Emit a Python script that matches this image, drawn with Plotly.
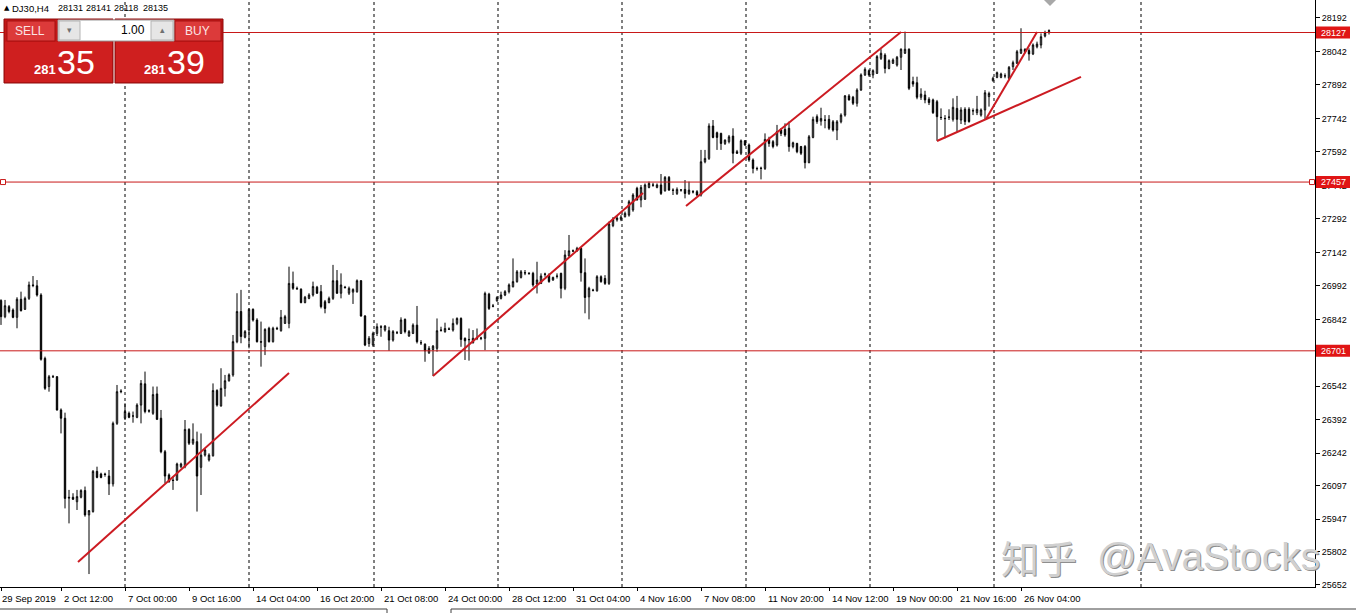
import plotly.graph_objects as go

# ---------------- data (DJ30, H4) ----------------
open_prices = [
    26926, 26854, 26899, 26884, 26851, 26932, 26887, 26936, 26996, 26992,
    26951, 26667, 26541, 26585, 26585, 26436, 26399, 26045, 26045, 26025,
    26045, 26075, 25966, 25981, 26161, 26149, 26149, 26140, 26105, 26376,
    26518, 26399, 26421, 26409, 26403, 26458, 26553, 26433, 26421, 26508,
    26399, 26249, 26145, 26122, 26122, 26182, 26182, 26349, 26287, 26294,
    26179, 26234, 26212, 26231, 26523, 26454, 26533, 26567, 26593, 26742,
    26877, 26762, 26794, 26887, 26839, 26742, 26720, 26802, 26742, 26802,
    26791, 26824, 26824, 27003, 26981, 26977, 26917, 26936, 26951, 26986,
    26966, 26921, 26917, 26936, 27015, 26959, 26986, 26959, 26964, 26966,
    27015, 26857, 26734, 26727, 26779, 26809, 26794, 26791, 26749, 26782,
    26779, 26842, 26767, 26779, 26816, 26737, 26731, 26692, 26707, 26712,
    26794, 26787, 26799, 26794, 26824, 26846, 26757, 26752, 26737, 26757,
    26757, 26757, 26955, 26902, 26925, 26936, 26951, 26966, 26988, 27011,
    27030, 27051, 27048, 27048, 27000, 27003, 27045, 27040, 27018, 27036,
    27048, 26981, 27126, 27149, 27149, 27160, 27051, 26943, 26973, 26970,
    27033, 27025, 27003, 27262, 27288, 27290, 27302, 27309, 27332, 27429,
    27377, 27380, 27433, 27444, 27433, 27444, 27418, 27478, 27421, 27406,
    27421, 27424, 27406, 27414, 27414, 27399, 27548, 27563, 27708, 27678,
    27675, 27630, 27638, 27663, 27593, 27586, 27642, 27623, 27556, 27518,
    27518, 27518, 27648, 27638, 27623, 27690, 27693, 27698, 27616, 27630,
    27616, 27616, 27544, 27657, 27750, 27730, 27735, 27738, 27727, 27690,
    27727, 27757, 27843, 27837, 27810, 27869, 27937, 27956, 27937, 27944,
    28011, 28026, 27966, 27989, 27981, 28016, 28034, 28052, 27907, 27902,
    27837, 27847, 27828, 27825, 27817, 27747, 27742, 27747, 27738, 27787,
    27735, 27783, 27783, 27777, 27768, 27757, 27780, 27840, 27911, 27926,
    27926, 27932, 27922, 27974, 27989, 28034, 28052, 28046, 28031, 28063,
    28071, 28111, 28131,
]
high_prices = [
    26932, 26929, 26906, 26891, 26941, 26966, 26944, 27011, 27036, 27018,
    26959, 26675, 26593, 26593, 26588, 26443, 26424, 26078, 26063, 26078,
    26081, 26093, 25988, 26167, 26182, 26155, 26155, 26167, 26384, 26548,
    26529, 26466, 26429, 26429, 26466, 26570, 26608, 26439, 26541, 26541,
    26436, 26257, 26152, 26137, 26200, 26200, 26391, 26354, 26376, 26339,
    26331, 26264, 26242, 26555, 26529, 26623, 26593, 26600, 26772, 26959,
    26974, 26794, 26891, 26891, 26847, 26832, 26802, 26809, 26809, 26809,
    26884, 26862, 27078, 27056, 26989, 26981, 26947, 26959, 27011, 26992,
    26996, 26929, 26944, 27086, 27063, 27048, 26992, 26989, 26981, 27021,
    27018, 26861, 26767, 26787, 26824, 26816, 26816, 26809, 26794, 26790,
    26851, 26846, 26794, 26824, 26902, 26749, 26734, 26722, 26727, 26846,
    26809, 26827, 26806, 26846, 26851, 26851, 26761, 26801, 26794, 26801,
    26764, 26966, 26961, 26911, 26946, 26966, 26973, 27003, 27115, 27063,
    27063, 27063, 27054, 27055, 27100, 27048, 27051, 27048, 27033, 27048,
    27051, 27152, 27220, 27155, 27167, 27164, 27115, 26988, 26979, 27040,
    27039, 27040, 27280, 27300, 27305, 27309, 27325, 27377, 27407, 27436,
    27444, 27451, 27459, 27454, 27451, 27493, 27484, 27484, 27429, 27433,
    27424, 27466, 27459, 27421, 27421, 27601, 27601, 27720, 27735, 27683,
    27678, 27648, 27668, 27698, 27601, 27648, 27645, 27630, 27563, 27526,
    27526, 27675, 27660, 27645, 27713, 27698, 27720, 27728, 27638, 27633,
    27619, 27623, 27668, 27750, 27760, 27790, 27757, 27757, 27735, 27735,
    27765, 27847, 27851, 27843, 27877, 27944, 27971, 27962, 27962, 28026,
    28052, 28034, 28007, 28011, 28022, 28056, 28131, 28056, 27929, 27929,
    27877, 27866, 27837, 27831, 27825, 27787, 27757, 27783, 27832, 27843,
    27792, 27792, 27792, 27787, 27843, 27787, 27869, 27862, 27929, 27952,
    27947, 27944, 27977, 28001, 28049, 28146, 28056, 28056, 28078, 28086,
    28123, 28135, 28141,
]
low_prices = [
    26817, 26847, 26869, 26847, 26802, 26877, 26884, 26929, 26986, 26944,
    26657, 26526, 26518, 26582, 26433, 26331, 25995, 25928, 26033, 25988,
    26040, 25958, 25701, 25976, 26130, 26130, 26137, 26055, 26093, 26369,
    26511, 26391, 26399, 26379, 26399, 26376, 26421, 26424, 26414, 26391,
    26242, 26108, 26110, 26078, 26119, 26175, 26175, 26279, 26279, 25981,
    26055, 26227, 26205, 26227, 26451, 26451, 26496, 26563, 26585, 26735,
    26735, 26757, 26712, 26832, 26738, 26630, 26682, 26738, 26738, 26794,
    26787, 26821, 26802, 26974, 26974, 26914, 26914, 26932, 26944, 26956,
    26891, 26869, 26914, 26929, 26956, 26936, 26981, 26951, 26911, 26961,
    26854, 26722, 26719, 26719, 26767, 26764, 26787, 26701, 26742, 26776,
    26776, 26779, 26764, 26776, 26734, 26727, 26652, 26687, 26589, 26697,
    26787, 26782, 26794, 26787, 26816, 26719, 26660, 26657, 26734, 26749,
    26749, 26704, 26884, 26896, 26921, 26931, 26946, 26958, 26985, 27006,
    27025, 27040, 27042, 26988, 26958, 27000, 27033, 27006, 27015, 27025,
    26936, 26973, 27123, 27143, 27145, 27011, 26869, 26842, 26967, 26966,
    27006, 26996, 26996, 27255, 27280, 27282, 27298, 27302, 27324, 27374,
    27344, 27377, 27429, 27436, 27429, 27399, 27414, 27418, 27399, 27399,
    27414, 27384, 27399, 27406, 27395, 27392, 27541, 27556, 27653, 27601,
    27601, 27623, 27630, 27541, 27583, 27578, 27619, 27548, 27496, 27508,
    27469, 27511, 27615, 27608, 27616, 27663, 27660, 27593, 27608, 27586,
    27578, 27518, 27541, 27653, 27718, 27710, 27698, 27690, 27683, 27645,
    27720, 27750, 27822, 27802, 27795, 27866, 27932, 27929, 27922, 27941,
    28004, 27944, 27962, 27986, 27974, 27959, 28031, 27869, 27884, 27828,
    27825, 27810, 27802, 27762, 27642, 27735, 27653, 27735, 27728, 27683,
    27717, 27713, 27723, 27757, 27757, 27750, 27735, 27795, 27907, 27922,
    27922, 27922, 27917, 27959, 27986, 28031, 28034, 28001, 28026, 28056,
    28056, 28105, 28118,
]
close_prices = [
    26854, 26903, 26877, 26851, 26932, 26881, 26936, 26996, 26994, 26951,
    26663, 26533, 26585, 26584, 26436, 26399, 26040, 26042, 26036, 26048,
    26075, 25966, 25985, 26161, 26134, 26134, 26147, 26105, 26376, 26518,
    26520, 26429, 26403, 26409, 26458, 26555, 26429, 26431, 26505, 26394,
    26249, 26140, 26115, 26120, 26194, 26194, 26349, 26287, 26305, 26140,
    26234, 26257, 26234, 26523, 26458, 26533, 26567, 26593, 26742, 26877,
    26765, 26787, 26887, 26839, 26742, 26740, 26797, 26742, 26802, 26800,
    26851, 26854, 27003, 26981, 26979, 26917, 26941, 26951, 26989, 26959,
    26899, 26891, 26936, 27015, 26959, 26996, 26984, 26981, 26976, 27015,
    26857, 26727, 26757, 26779, 26809, 26807, 26812, 26749, 26787, 26782,
    26839, 26787, 26787, 26816, 26742, 26737, 26701, 26712, 26722, 26791,
    26793, 26801, 26798, 26824, 26846, 26752, 26746, 26751, 26757, 26756,
    26758, 26958, 26891, 26901, 26940, 26951, 26966, 26996, 27011, 27055,
    27055, 27050, 27047, 26996, 27018, 27036, 27044, 27011, 27030, 27035,
    26981, 27130, 27149, 27148, 27160, 27051, 26940, 26981, 26972, 27033,
    27011, 27003, 27269, 27290, 27296, 27300, 27317, 27369, 27399, 27377,
    27433, 27444, 27451, 27443, 27444, 27406, 27478, 27421, 27420, 27424,
    27422, 27406, 27421, 27413, 27399, 27548, 27563, 27708, 27657, 27657,
    27630, 27645, 27660, 27586, 27586, 27642, 27623, 27556, 27518, 27517,
    27519, 27648, 27630, 27616, 27683, 27675, 27668, 27616, 27633, 27593,
    27586, 27544, 27660, 27738, 27728, 27742, 27734, 27698, 27690, 27727,
    27757, 27843, 27825, 27810, 27869, 27937, 27962, 27937, 27956, 28019,
    28034, 27966, 28001, 28004, 28016, 28052, 28052, 27877, 27896, 27837,
    27851, 27825, 27813, 27768, 27750, 27746, 27741, 27748, 27792, 27738,
    27780, 27728, 27728, 27776, 27783, 27780, 27857, 27854, 27922, 27947,
    27941, 27933, 27971, 27992, 28041, 28052, 28041, 28031, 28071, 28075,
    28108, 28126, 28135,
]
bar_index = list(range(len(open_prices)))

# time-axis labels (bar index -> label)
time_tick_pos = [0, 15, 31, 47, 63, 79, 95, 111, 127, 143, 159, 175, 191, 207, 223, 239, 255]
time_tick_text = ["29 Sep 2019", "2 Oct 12:00", "7 Oct 00:00", "9 Oct 16:00", "14 Oct 04:00",
                  "16 Oct 20:00", "21 Oct 08:00", "24 Oct 00:00", "28 Oct 12:00", "31 Oct 04:00",
                  "4 Nov 16:00", "7 Nov 08:00", "11 Nov 20:00", "14 Nov 12:00", "19 Nov 00:00",
                  "21 Nov 16:00", "26 Nov 04:00"]
# vertical (period) grid lines, in bar units
grid_pos = [31, 62, 93.25, 124.25, 155.25, 186.25, 217.25, 248.25, 285]

# price axis
price_ticks = [28192, 28042, 27892, 27742, 27592, 27442, 27292, 27142, 26992, 26842,
               26692, 26542, 26392, 26242, 26097, 25947, 25802, 25652]

# horizontal level lines
levels = [28127, 27457, 26701]
# trend lines: (bar0, price0, bar1, price1)
trend_lines = [
    (19.25, 25755, 72.0, 26602),
    (108.0, 26588, 160.5, 27408),
    (171.25, 27350, 225.0, 28129),
    (234.0, 27641, 270.0, 27928),
    (246.25, 27739, 259.0, 28129),
]

# header / trade panel texts
symbol_text = "DJ30,H4"
ohlc_header = ["28131", "28141", "28118", "28135"]
lot_text = "1.00"
sell_big, sell_small = "35", "281"
buy_big, buy_small = "39", "281"
watermark_cn, watermark_en = "知乎", "@AvaStocks"

# ---------------- figure ----------------
FW, FH = 1356, 613
PW, PH = 1315, 587          # plot area size in px (margins l=0,t=0)
RED_LINE = "#c81818"
TREND = "#cc1b22"
FONT = "Liberation Sans, Arial, sans-serif"


def px(x):
    return x / PW


def py(y):
    return 1 - y / PH


fig = go.Figure()
fig.add_trace(go.Candlestick(
    x=bar_index, open=open_prices, high=high_prices, low=low_prices, close=close_prices,
    increasing=dict(fillcolor="white", line=dict(color="black", width=1)),
    decreasing=dict(fillcolor="black", line=dict(color="black", width=1)),
    whiskerwidth=0, hoverinfo="skip", showlegend=False,
))

shapes = []
annotations = []

# grid
for g in grid_pos:
    shapes.append(dict(type="line", xref="x", yref="paper", x0=g, x1=g, y0=0, y1=1,
                       line=dict(color="black", width=1, dash="3px,3px"), layer="below"))

# horizontal level lines + axis labels
for lv in levels:
    shapes.append(dict(type="line", xref="paper", yref="y", x0=0, x1=1, y0=lv, y1=lv,
                       line=dict(color=RED_LINE, width=1), layer="above"))
    shapes.append(dict(type="rect", xref="paper", yref="y", x0=px(1316), x1=px(1350),
                       ysizemode="pixel", yanchor=lv, y0=-6, y1=6,
                       fillcolor="#e01515", line=dict(width=0), layer="above"))
    annotations.append(dict(xref="paper", yref="y", x=px(1333), y=lv, text=str(lv),
                            showarrow=False, font=dict(family=FONT, size=9, color="white"),
                            xanchor="center", yanchor="middle"))
# selection handles on the middle line
for hx in (3, 1312):
    shapes.append(dict(type="rect", xref="paper", yref="y", xsizemode="pixel", ysizemode="pixel",
                       xanchor=px(hx), yanchor=levels[1], x0=-2.5, x1=2.5, y0=-2.5, y1=2.5,
                       fillcolor="white", line=dict(color=RED_LINE, width=1), layer="above"))

# trend lines
for (b0, p0, b1, p1) in trend_lines:
    shapes.append(dict(type="line", xref="x", yref="y", x0=b0, y0=p0, x1=b1, y1=p1,
                       line=dict(color=TREND, width=2), layer="above"))

# chart-shift marker at top
shapes.append(dict(type="path", xref="paper", yref="paper",
                   path=f"M {px(1043)},{py(-1)} L {px(1050)},{py(6)} L {px(1057)},{py(-1)} Z",
                   fillcolor="#a8a8a8", line=dict(width=0), layer="above"))

# bottom tab strip
shapes.append(dict(type="line", xref="paper", yref="paper", x0=0, x1=px(387), y0=py(609), y1=py(609),
                   line=dict(color="#404040", width=1)))
shapes.append(dict(type="line", xref="paper", yref="paper", x0=px(451), x1=px(1356), y0=py(609), y1=py(609),
                   line=dict(color="#404040", width=1)))
for vx in (387, 451):
    shapes.append(dict(type="line", xref="paper", yref="paper", x0=px(vx), x1=px(vx), y0=py(609), y1=py(613),
                       line=dict(color="#404040", width=1)))


def rect(x0, y0, x1, y1, fill, border=None, bw=1):
    shapes.append(dict(type="rect", xref="paper", yref="paper", x0=px(x0), x1=px(x1),
                       y0=py(y1), y1=py(y0), fillcolor=fill,
                       line=dict(color=border if border else fill, width=bw if border else 0),
                       layer="above"))


def text(x, y, s, size, color="black", anchor="left", bold=False, family=FONT):
    if bold:
        s = f"<b>{s}</b>"
    annotations.append(dict(xref="paper", yref="paper", x=px(x), y=py(y), text=s, showarrow=False,
                            xanchor=anchor, yanchor="middle", borderpad=0,
                            font=dict(family=family, size=size, color=color)))


# trade panel
rect(4, 19, 113, 83, "#c41717", "#8e0d0d")
rect(115, 19, 223, 83, "#c41717", "#8e0d0d")
rect(5, 42, 112, 82, "#cf1f1f")
rect(116, 42, 222, 82, "#cf1f1f")
rect(7, 21, 55, 41, "#dc3a3a", "#a51212")
rect(175, 21, 221, 41, "#dc3a3a", "#a51212")
rect(58, 20, 174, 41, "white", "#9a9a9a")
rect(59, 21, 80, 40, "#e6e6e6", "#b4b4b4")
rect(151, 21, 173, 40, "#e6e6e6", "#b4b4b4")
text(69.5, 30.5, "▾", 9, "#707070", "center", family="DejaVu Sans")
text(162, 30.5, "▴", 9, "#707070", "center", family="DejaVu Sans")
text(146, 30.5, lot_text, 12, "black", "right")
text(30, 31, "SELL", 12, "#fbe4e4", "center")
text(197, 31, "BUY", 12, "#fbe4e4", "center")
text(33, 70, sell_small, 13, "white", "left", bold=True)
text(56, 62, sell_big, 34, "white", "left")
text(143, 70, buy_small, 13, "white", "left", bold=True)
text(166, 62, buy_big, 34, "white", "left")

# header
text(3, 8, "▲", 7, "black", "left", family="DejaVu Sans")
text(11, 8, symbol_text, 9.5)
for hx, s in zip((57, 85, 113, 142), ohlc_header):
    text(hx, 8, s, 9)

# time labels
for pos, lab in zip(time_tick_pos, time_tick_text):
    annotations.append(dict(xref="x", yref="paper", x=pos, y=py(598), text=lab, showarrow=False,
                            xanchor="left", yanchor="middle", xshift=0 if pos == 0 else 2, borderpad=0,
                            font=dict(family=FONT, size=9.5, color="black")))

# watermark
for dx, col in ((1, "#8e8e8e"), (0, "#d0d0d0")):
    annotations.append(dict(xref="paper", yref="paper", x=px(999 + dx), y=py(556 + dx), text=watermark_cn,
                            showarrow=False, xanchor="left", yanchor="middle",
                            font=dict(family="Noto Sans CJK SC", size=38, color=col)))
    annotations.append(dict(xref="paper", yref="paper", x=px(1095 + dx), y=py(556 + dx), text=watermark_en,
                            showarrow=False, xanchor="left", yanchor="middle",
                            font=dict(family=FONT, size=39, color=col)))

fig.update_layout(
    width=FW, height=FH, margin=dict(l=0, r=FW - PW, t=0, b=FH - PH),
    paper_bgcolor="white", plot_bgcolor="white", showlegend=False,
    boxgap=0.5, hovermode=False,
    shapes=shapes, annotations=annotations,
    xaxis=dict(range=[-0.25, 328.5], showgrid=False, zeroline=False, showline=True,
               linecolor="black", linewidth=1, ticks="outside", ticklen=3, tickcolor="black",
               tickvals=time_tick_pos, showticklabels=False, rangeslider=dict(visible=False),
               fixedrange=True),
    yaxis=dict(side="right", range=[25643.0, 28272.6], showgrid=False, zeroline=False,
               showline=True, linecolor="black", linewidth=1, ticks="outside", ticklen=4,
               tickcolor="black", tickvals=price_ticks, ticktext=[str(t) for t in price_ticks],
               tickfont=dict(family=FONT, size=9, color="black"), fixedrange=True),
)

fig.write_html("out.html")
